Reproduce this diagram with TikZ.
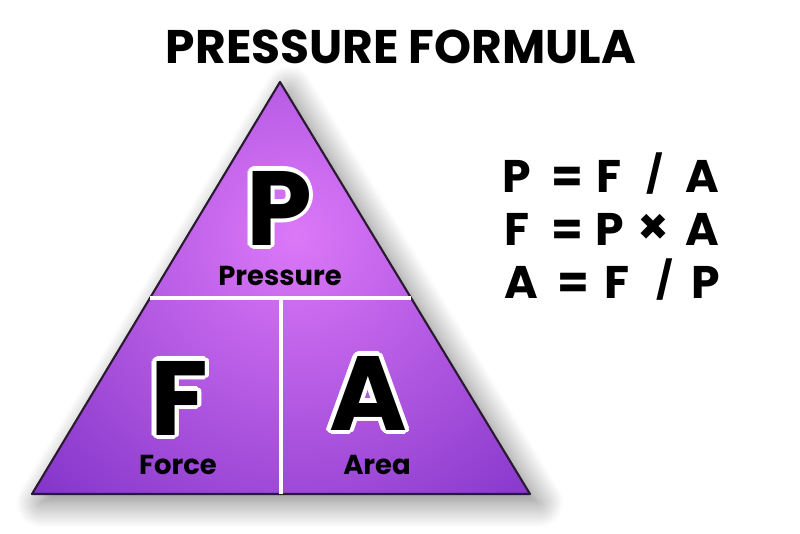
\documentclass[tikz,border=0pt]{standalone}
\usepackage{fontspec}
\setmainfont{Poppins}
\usepackage{contour}
\contourlength{1.2pt}
\usetikzlibrary{shadows.blur}
\definecolor{lightp}{HTML}{DC78F8}
\definecolor{darkp}{HTML}{6A22BC}
\definecolor{edgec}{HTML}{2A1A30}
\tikzset{
  title/.style={anchor=base, inner sep=0pt, font=\fontsize{13.4}{16}\selectfont\bfseries},
  big/.style={anchor=base, inner sep=0pt, font=\fontsize{30}{34}\selectfont\bfseries},
  lbl/.style={anchor=base, inner sep=0pt, font=\fontsize{7.8}{9}\selectfont\bfseries},
  eq/.style={anchor=base, inner sep=0pt, font=\fontsize{13}{15}\selectfont\bfseries},
  divider/.style={white, line width=1.2pt}
}
\newcommand{\slashch}{\raisebox{1.2pt}{\scalebox{0.8}{/}}}
\newcommand{\timesch}{\raisebox{0.2pt}{\scalebox{1.1}{×}}}
\begin{document}
\begin{tikzpicture}[x=0.01cm,y=-0.01cm]
\useasboundingbox (0,0) rectangle (800,533);
\coordinate (top) at (280,82);
\coordinate (bl) at (32,494);
\coordinate (br) at (530,494);
\coordinate (ml) at (150,298);
\coordinate (mr) at (411,298);
\coordinate (mm) at (281,298);
\coordinate (mb) at (281,494);
% shadow
\fill[white, blur shadow={shadow xshift=2.5pt, shadow yshift=-2.5pt, shadow blur radius=7pt, shadow blur steps=16, shadow opacity=50}] (top) -- (bl) -- (br) -- cycle;
% shaded body
\begin{scope}
\clip (top) -- (bl) -- (br) -- cycle;
\shade[inner color=lightp, outer color=darkp] (295,235) circle (470);
\end{scope}
\draw[edgec, line width=0.6pt, line join=round] (top) -- (bl) -- (br) -- cycle;
\draw[divider] (ml) -- (mr);
\draw[divider] (mm) -- (mb);
% texts
\node[title] (title) at (401,63) {PRESSURE FORMULA};
\node[big] (bigP) at (279,245) {\contour{white}{P}};
\node[lbl] (lblP) at (280,285) {Pressure};
\node[big] (bigF) at (179,435) {\contour{white}{F}};
\node[lbl] (lblF) at (178,474) {Force};
\node[big] (bigA) at (368,430) {\contour{white}{A}};
\node[lbl] (lblA) at (377,474) {Area};
% formulas
\foreach \ch/\x/\y/\n in {P/517/192/ea1, {=}/567/192/ea2, F/609/192/ea3, {\slashch}/655/192/ea4, A/702/192/ea5,
                           F/517/245/eb1, {=}/567/245/eb2, P/610/245/eb3, {\timesch}/654/245/eb4, A/702/245/eb5,
                           A/521/298/ec1, {=}/573/298/ec2, F/617/298/ec3, {\slashch}/665/298/ec4, P/706/298/ec5}
  \node[eq] (\n) at (\x,\y) {\ch};
\end{tikzpicture}
\end{document}
